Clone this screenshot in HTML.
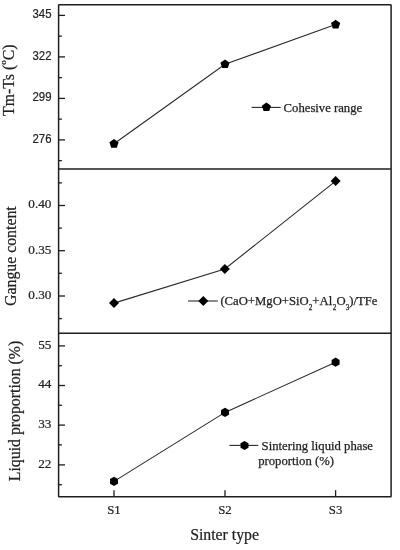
<!DOCTYPE html><html><head><meta charset="utf-8"><style>html,body{margin:0;padding:0;background:#fff;overflow:hidden}svg{display:block}</style></head><body>
<svg width="400" height="550" viewBox="0 0 400 550">
<rect x="0" y="0" width="400" height="550" fill="#fff"/>
<g stroke="#1e1e1e" stroke-width="1.3" fill="none">
<line x1="58.6" y1="15.4" x2="65.0" y2="15.4"/>
<line x1="58.6" y1="56.9" x2="65.0" y2="56.9"/>
<line x1="58.6" y1="98.4" x2="65.0" y2="98.4"/>
<line x1="58.6" y1="139.9" x2="65.0" y2="139.9"/>
<line x1="58.6" y1="205.5" x2="65.0" y2="205.5"/>
<line x1="58.6" y1="250.7" x2="65.0" y2="250.7"/>
<line x1="58.6" y1="296.0" x2="65.0" y2="296.0"/>
<line x1="58.6" y1="345.9" x2="65.0" y2="345.9"/>
<line x1="58.6" y1="385.5" x2="65.0" y2="385.5"/>
<line x1="58.6" y1="425.1" x2="65.0" y2="425.1"/>
<line x1="58.6" y1="464.9" x2="65.0" y2="464.9"/>
<line x1="58.6" y1="36.15" x2="61.9" y2="36.15"/>
<line x1="58.6" y1="77.65" x2="61.9" y2="77.65"/>
<line x1="58.6" y1="119.15" x2="61.9" y2="119.15"/>
<line x1="58.6" y1="160.65" x2="61.9" y2="160.65"/>
<line x1="58.6" y1="182.90" x2="61.9" y2="182.90"/>
<line x1="58.6" y1="228.10" x2="61.9" y2="228.10"/>
<line x1="58.6" y1="273.30" x2="61.9" y2="273.30"/>
<line x1="58.6" y1="318.60" x2="61.9" y2="318.60"/>
<line x1="58.6" y1="365.70" x2="61.9" y2="365.70"/>
<line x1="58.6" y1="405.30" x2="61.9" y2="405.30"/>
<line x1="58.6" y1="444.90" x2="61.9" y2="444.90"/>
<line x1="58.6" y1="484.70" x2="61.9" y2="484.70"/>
<line x1="114" y1="496.8" x2="114" y2="490.2"/>
<line x1="225" y1="496.8" x2="225" y2="490.2"/>
<line x1="335.6" y1="496.8" x2="335.6" y2="490.2"/>
</g>
<g stroke="#1e1e1e" stroke-width="1.5" fill="none" stroke-linejoin="round">
<rect x="58.6" y="4.8" width="332.5" height="492.0" rx="0.6"/>
<line x1="58.6" y1="169.0" x2="391.1" y2="169.0"/>
<line x1="58.6" y1="333.2" x2="391.1" y2="333.2"/>
</g>
<g font-family="'Liberation Sans', sans-serif" font-size="12.8" fill="#222" stroke="#222" stroke-width="0.22" text-anchor="end">
<text x="51.5" y="18.4" textLength="19" lengthAdjust="spacingAndGlyphs">345</text>
<text x="51.5" y="59.9" textLength="19" lengthAdjust="spacingAndGlyphs">322</text>
<text x="51.5" y="101.4" textLength="19" lengthAdjust="spacingAndGlyphs">299</text>
<text x="51.5" y="142.9" textLength="19" lengthAdjust="spacingAndGlyphs">276</text>
</g>
<g font-family="'Liberation Serif', serif" font-size="13.2" fill="#222" stroke="#222" stroke-width="0.22" text-anchor="end">
<text x="51.4" y="208.4">0.40</text>
<text x="51.4" y="253.6">0.35</text>
<text x="51.4" y="298.9">0.30</text>
<text x="51.4" y="348.8">55</text>
<text x="51.4" y="388.4">44</text>
<text x="51.4" y="428.0">33</text>
<text x="51.4" y="467.8">22</text>
</g>
<g font-family="'Liberation Serif', serif" font-size="12.8" fill="#222" stroke="#222" stroke-width="0.22" text-anchor="middle">
<text x="114" y="514">S1</text>
<text x="225" y="514">S2</text>
<text x="335.6" y="514">S3</text>
</g>
<text x="224.6" y="540" font-family="'Liberation Serif', serif" font-size="15.8" fill="#222" stroke="#222" stroke-width="0.22" text-anchor="middle">Sinter type</text>
<text transform="translate(14.3,80.2) rotate(-90)" font-family="'Liberation Serif', serif" font-size="15.8" fill="#222" stroke="#222" stroke-width="0.22" text-anchor="middle">Tm-Ts (<tspan font-size="9" dy="-8.2">o</tspan><tspan dy="8.2">C)</tspan></text>
<text transform="translate(15.6,256.1) rotate(-90)" font-family="'Liberation Serif', serif" font-size="15.8" fill="#222" stroke="#222" stroke-width="0.22" text-anchor="middle">Gangue content</text>
<text transform="translate(19.7,411) rotate(-90)" font-family="'Liberation Serif', serif" font-size="15.8" fill="#222" stroke="#222" stroke-width="0.22" text-anchor="middle">Liquid proportion (%)</text>
<g stroke="#2a2a2a" stroke-width="1.1" fill="none">
<polyline points="114,143.8 225,64.2 335.6,24.6"/>
<polyline points="114,303.1 224.8,269 335.6,181.1"/>
<polyline points="114,481.4 225,412.4 335.6,362.2"/>
<line x1="251.6" y1="107.4" x2="280.7" y2="107.4"/>
<line x1="188.1" y1="301" x2="217.75" y2="301"/>
<line x1="229.4" y1="445.4" x2="258.3" y2="445.4"/>
</g>
<g fill="#000">
<polygon points="114.00,139.00 118.57,142.32 116.82,147.68 111.18,147.68 109.43,142.32"/>
<polygon points="225.00,59.40 229.57,62.72 227.82,68.08 222.18,68.08 220.43,62.72"/>
<polygon points="335.60,19.80 340.17,23.12 338.42,28.48 332.78,28.48 331.03,23.12"/>
<polygon points="266.40,102.40 270.97,105.72 269.22,111.08 263.58,111.08 261.83,105.72"/>
<polygon points="114.00,298.10 119.00,303.10 114.00,308.10 109.00,303.10"/>
<polygon points="224.80,264.00 229.80,269.00 224.80,274.00 219.80,269.00"/>
<polygon points="335.60,176.10 340.60,181.10 335.60,186.10 330.60,181.10"/>
<polygon points="203.30,296.10 208.30,301.10 203.30,306.10 198.30,301.10"/>
<polygon points="114.00,476.80 117.98,479.10 117.98,483.70 114.00,486.00 110.02,483.70 110.02,479.10"/>
<polygon points="225.00,407.80 228.98,410.10 228.98,414.70 225.00,417.00 221.02,414.70 221.02,410.10"/>
<polygon points="335.60,357.60 339.58,359.90 339.58,364.50 335.60,366.80 331.62,364.50 331.62,359.90"/>
<polygon points="244.50,440.90 248.48,443.20 248.48,447.80 244.50,450.10 240.52,447.80 240.52,443.20"/>
</g>
<text x="283.6" y="111.8" font-family="'Liberation Serif', serif" font-size="12.7" fill="#222" stroke="#222" stroke-width="0.25">Cohesive range</text>
<text x="220.4" y="305.3" font-family="'Liberation Serif', serif" font-size="12.7" fill="#222" stroke="#222" stroke-width="0.25">(CaO+MgO+SiO<tspan font-size="7.2" dy="4.8">2</tspan><tspan dy="-4.8">+Al</tspan><tspan font-size="7.2" dx="0.7" dy="4.8">2</tspan><tspan dy="-4.8">O</tspan><tspan font-size="7.2" dy="4.8">3</tspan><tspan dy="-4.8">)/TFe</tspan></text>
<text x="261.6" y="449.7" font-family="'Liberation Serif', serif" font-size="12.7" fill="#222" stroke="#222" stroke-width="0.25">Sintering liquid phase</text>
<text x="258.2" y="465" font-family="'Liberation Serif', serif" font-size="12.7" fill="#222" stroke="#222" stroke-width="0.25">proportion (%)</text>
</svg></body></html>
